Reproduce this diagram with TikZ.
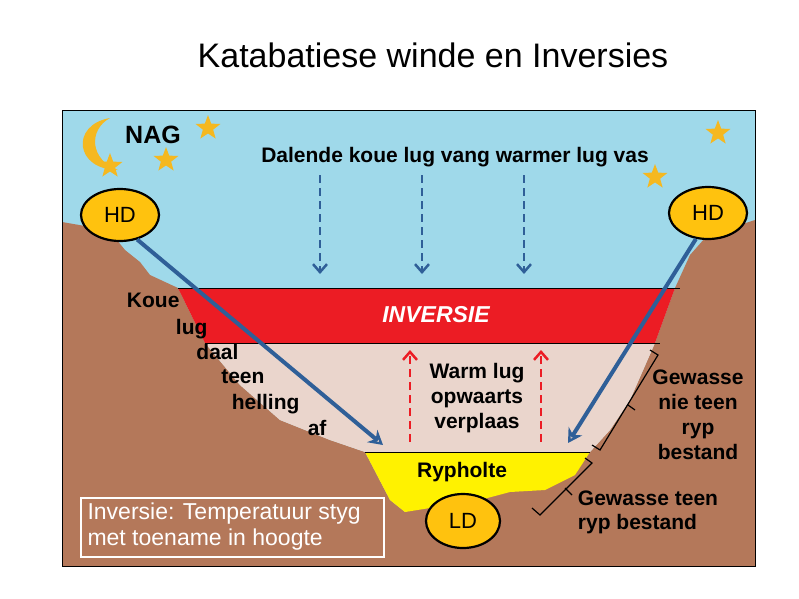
\documentclass[tikz,border=0pt]{standalone}
\usepackage{fontspec}
\setmainfont{Liberation Sans}
\usetikzlibrary{shapes.geometric,arrows.meta}
\definecolor{sky}{HTML}{9FD9EA}
\definecolor{earth}{HTML}{B4785A}
\definecolor{invred}{HTML}{EC1C24}
\definecolor{pale}{HTML}{EAD5CC}
\definecolor{ryp}{HTML}{FFF200}
\definecolor{gold}{HTML}{FFC20E}
\definecolor{stary}{HTML}{F5B820}
\definecolor{blu}{HTML}{2F5F98}
\tikzset{
 circ/.style={ellipse,draw=black,line width=2.2pt,fill=gold,minimum width=78pt,minimum height=52pt,font=\fontsize{22}{22}\selectfont},
 lbl/.style={font=\bfseries\fontsize{21}{25}\selectfont,align=center},
 flow/.style={blu,line width=4pt,-{Stealth[length=14pt,width=16pt,open]}},
 down/.style={blu,line width=2.5pt,dash pattern=on 8pt off 5pt,-{Straight Barb[length=8pt,width=14pt]}},
 up/.style={invred,line width=2.5pt,dash pattern=on 8pt off 5pt,-{Straight Barb[length=8pt,width=14pt]}},
 st/.style={star,star points=5,star point ratio=2.4,fill=stary,minimum size=26pt,inner sep=0pt},
}
\begin{document}
\begin{tikzpicture}[x=1pt,y=-1pt]
\useasboundingbox (0,0) rectangle (799,598);
\fill[white] (0,0) rectangle (799,598);
\node[font=\fontsize{34}{34}\selectfont] (title) at (433,55) {Katabatiese winde en Inversies};
\fill[sky] (62,110) rectangle (755,566);
\fill[earth] (62,566) -- (62,222) -- (85,226) -- (112,234) -- (125,250) -- (140,262) -- (150,275) -- (178,288) -- (205,343) -- (240,385) -- (280,420) -- (330,440) -- (365,452) -- (390,500) -- (405,512) -- (590,452) -- (610,430) -- (630,400) -- (655,343) -- (675,288) -- (690,255) -- (705,238) -- (730,228) -- (755,220) -- (755,566) -- cycle;
\fill[invred] (178,288) -- (675,288) -- (655,343) -- (205,343) -- cycle;
\fill[pale] (205,343) -- (655,343) -- (630,400) -- (610,430) -- (590,452) -- (365,452) -- (330,440) -- (280,420) -- (240,385) -- cycle;
\fill[ryp] (365,452) -- (590,452) -- (575,475) -- (545,490) -- (510,492) -- (480,500) -- (430,508) -- (405,512) -- (390,500) -- cycle;
\draw[line width=1pt] (178,288) -- (680,288);
\draw[line width=1pt] (205,343) -- (660,343);
\draw[line width=1pt] (365,452) -- (590,452);
\draw[line width=1pt] (62,110) rectangle (755,566);
% brackets
\draw[line width=1.2pt] (650,350) -- (658,355) -- (600,450) -- (592,445);
\draw[line width=1.2pt] (628,405) -- (635,410);
\draw[line width=1.2pt] (585,458) -- (592,463) -- (540,515) -- (532,508);
\draw[line width=1.2pt] (565,488) -- (572,495);
% moon and stars
\fill[stary] (110,118) .. controls (70,125) and (75,170) .. (118,170) .. controls (90,160) and (88,130) .. (110,118) -- cycle;
\node[st] (s1) at (208,128) {};
\node[st] (s2) at (166,160) {};
\node[st] (s3) at (110,166) {};
\node[st] (s4) at (718,133) {};
\node[st] (s5) at (655,177) {};
\node[lbl,font=\bfseries\fontsize{25}{25}\selectfont] (nag) at (153,135) {NAG};
\node[lbl] (dal) at (455,157) {Dalende koue lug vang warmer lug vas};
\coordinate (d1a) at (320,175); \coordinate (d1b) at (320,274);
\coordinate (d2a) at (422,175); \coordinate (d2b) at (422,274);
\coordinate (d3a) at (524,175); \coordinate (d3b) at (524,274);
\draw[down] (d1a) -- (d1b); \draw[down] (d2a) -- (d2b); \draw[down] (d3a) -- (d3b);
\node[lbl,text=white,font=\bfseries\itshape\fontsize{23}{23}\selectfont] (inv) at (436,315) {INVERSIE};
\coordinate (u1a) at (410,442); \coordinate (u1b) at (410,350);
\coordinate (u2a) at (541,442); \coordinate (u2b) at (541,350);
\draw[up] (u1a) -- (u1b); \draw[up] (u2a) -- (u2b);
\node[lbl,font=\bfseries\fontsize{21}{25}\selectfont] (warm) at (477,398) {Warm lug\\opwaarts\\verplaas};
\node[lbl] (ryph) at (462,472) {Rypholte};
\node[lbl,anchor=north east] (koue) at (183,290) {Koue};
\node[lbl,anchor=north east] at (211,316) {lug};
\node[lbl,anchor=north east] at (242,341) {daal};
\node[lbl,anchor=north east] at (268,366) {teen};
\node[lbl,anchor=north east] at (303,391) {helling};
\node[lbl,anchor=north east] at (330,417) {af};
\node[lbl,font=\bfseries\fontsize{21}{25}\selectfont] (gn) at (698,415) {Gewasse\\nie teen\\ryp\\bestand};
\node[lbl,font=\bfseries\fontsize{21}{24}\selectfont,align=left] (gt) at (648,512) {Gewasse teen\\ryp bestand};
\node[circ] (hdl) at (120,215) {HD};
\node[circ] (hdr) at (708,213) {HD};
\node[circ,minimum width=74pt,minimum height=54pt] (ld) at (463,521) {LD};
\coordinate (fl) at (383,445); \coordinate (fr) at (568,443);
\draw[flow] (hdl.-55) -- (fl);
\draw[flow] (hdr.-115) -- (fr);
\node[draw=white,line width=2pt,minimum width=303pt,minimum height=59pt,anchor=north west,inner sep=0pt] (box) at (80,497) {};
\node[text=white,font=\fontsize{23}{26}\selectfont,align=left,anchor=west] (boxt) at (84,527) {Inversie: Temperatuur styg\\met toename in hoogte};
\end{tikzpicture}
\end{document}
